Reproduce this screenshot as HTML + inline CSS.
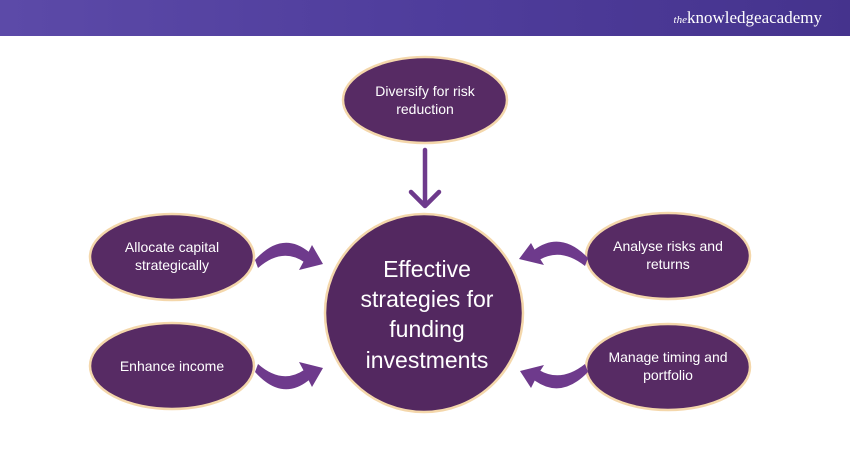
<!DOCTYPE html>
<html><head><meta charset="utf-8"><style>
html,body{margin:0;padding:0;background:#fff;}
body{width:850px;height:450px;overflow:hidden;position:relative;font-family:"Liberation Sans",sans-serif;}
.hdr{position:absolute;left:0;top:0;width:850px;height:36px;background:linear-gradient(90deg,#5c4aa8,#4f3d9c 50%,#45338d);}
.logo{position:absolute;right:28px;top:8px;color:#fff;font-family:"Liberation Serif",serif;font-size:17px;}
.logo i{font-size:11px;}
</style></head><body>
<div class="hdr"><div class="logo"><i>the</i>knowledgeacademy</div></div>
<svg width="850" height="450" style="position:absolute;left:0;top:0" font-family="Liberation Sans, sans-serif">
<g fill="#572b64" stroke="#f4d7ab" stroke-width="2.5">
<ellipse cx="425" cy="100" rx="82" ry="43"/>
<ellipse cx="172" cy="257" rx="82" ry="43"/>
<ellipse cx="172" cy="366" rx="82" ry="43"/>
<ellipse cx="668" cy="256" rx="82" ry="43"/>
<ellipse cx="668" cy="367" rx="82" ry="43"/>
<circle cx="424" cy="313" r="99" fill="#532860"/>
</g>
<g fill="none" stroke="#6e3a8c" stroke-width="4.5" stroke-linecap="round" stroke-linejoin="round">
<path d="M425 150 V205 M411 192 L425 206 L439 192"/>
</g>
<g fill="#6e3a8c">
<path d="M255 260 Q282 230 309 252 L304 262 Q282 247 258 268 Z"/><path d="M312 245 L323 264 L299 270 L306 257 Z"/>
<path d="M255 372 Q282 402 309 380 L304 370 Q282 385 258 364 Z"/><path d="M312 387 L323 368 L299 362 L306 375 Z"/>
<path d="M588 258 Q561 230 534 250 L539 260 Q561 247 585 266 Z"/><path d="M531 243 L519 259 L544 265 L537 254 Z"/>
<path d="M588 372 Q561 400 534 380 L539 370 Q561 383 585 364 Z"/><path d="M531 388 L520 371 L544 365 L537 376 Z"/>
</g>
<g fill="#fff" font-size="14" text-anchor="middle">
<text x="425" y="96">Diversify for risk</text><text x="425" y="114">reduction</text>
<text x="172" y="252">Allocate capital</text><text x="172" y="270">strategically</text>
<text x="172" y="371">Enhance income</text>
<text x="668" y="251">Analyse risks and</text><text x="668" y="269">returns</text>
<text x="668" y="362">Manage timing and</text><text x="668" y="380">portfolio</text>
</g>
<g fill="#fff" font-size="23" text-anchor="middle">
<text x="427" y="277">Effective</text><text x="427" y="307">strategies for</text>
<text x="427" y="337">funding</text><text x="427" y="368">investments</text>
</g>
</svg>
</body></html>
